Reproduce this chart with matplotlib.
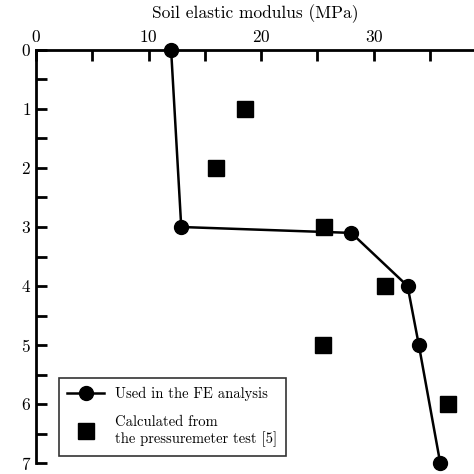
import matplotlib
matplotlib.use("Agg")
import matplotlib.pyplot as plt
from matplotlib.ticker import MultipleLocator

plt.rcParams['font.family'] = ['cmr10', 'DejaVu Serif']
plt.rcParams['axes.formatter.use_mathtext'] = True

fe_x = [12.0, 12.9, 28.0, 33.0, 34.0, 35.9]
fe_y = [0, 3, 3.1, 4, 5, 7]
pm_x = [18.6, 16.0, 25.6, 31.0, 25.5, 36.6]
pm_y = [1, 2, 3, 4, 5, 6]

fig = plt.figure(figsize=(4.74, 4.74), dpi=100)
ax = fig.add_axes([36/474, (474-463)/474, 1-36/474, 413/474])
ax.plot(fe_x, fe_y, 'k-', lw=1.8, marker='o', ms=10, label='Used in the FE analysis', clip_on=False, zorder=3)
ax.plot(pm_x, pm_y, 'ks', ms=11, ls='none', label='Calculated from\nthe pressuremeter test [5]', clip_on=False, zorder=3)
ax.set_xlim(0, 38.9)
ax.set_ylim(7, 0)
ax.xaxis.tick_top()
ax.xaxis.set_label_position('top')
ax.set_xlabel('Soil elastic modulus (MPa)', fontsize=12.5, labelpad=8)
ax.xaxis.set_major_locator(MultipleLocator(10))
ax.xaxis.set_minor_locator(MultipleLocator(5))
ax.yaxis.set_major_locator(MultipleLocator(1))
ax.yaxis.set_minor_locator(MultipleLocator(0.5))
ax.tick_params(which='both', direction='in', width=2, labelsize=12.5)
ax.tick_params(which='major', length=8)
ax.tick_params(which='minor', length=8)
for s in ['right', 'bottom']:
    ax.spines[s].set_visible(False)
for s in ['top', 'left']:
    ax.spines[s].set_linewidth(2)
leg = ax.legend(loc='lower left', bbox_to_anchor=(0.035, 0.0), fontsize=10.5,
                frameon=True, fancybox=False, edgecolor='black', handlelength=2.5,
                labelspacing=1.0, borderpad=0.6)
leg.get_frame().set_linewidth(1.2)
fig.savefig('out.png', dpi=100)
